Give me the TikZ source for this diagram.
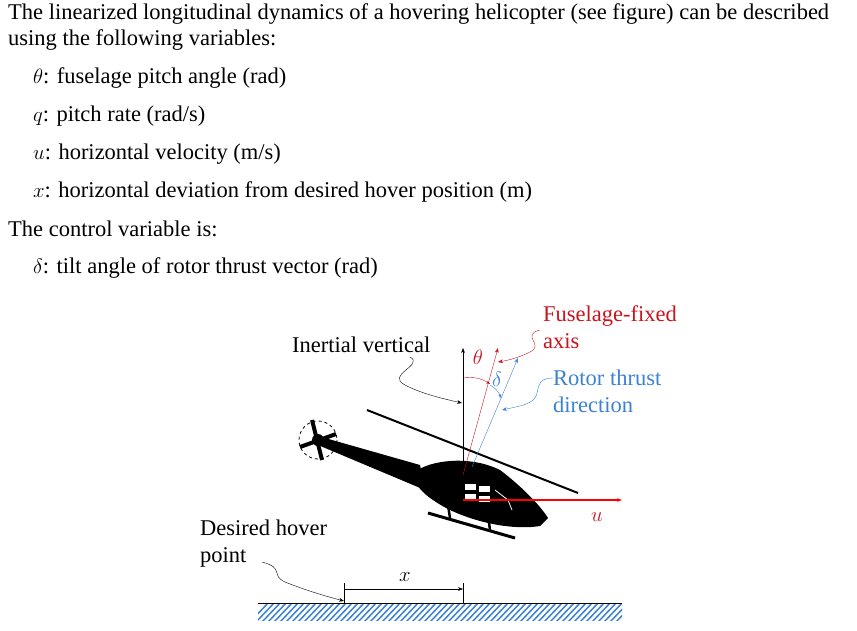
\documentclass[tikz,border=0pt]{standalone}
\usepackage{fontspec}
\setmainfont{Liberation Serif}
\usetikzlibrary{arrows.meta}
\begin{document}
\begin{tikzpicture}[x=1pt,y=-1pt,
  txt/.style={anchor=west,inner sep=0,font=\fontsize{22.5}{27}\selectfont},
  lbl/.style={inner sep=0,anchor=west,align=left,font=\fontsize{22.5}{27}\selectfont},
  ptr/.style={-{Stealth[length=5pt]},thin}]
\definecolor{rd}{RGB}{200,20,30}\definecolor{bl}{RGB}{60,130,210}
\useasboundingbox (0,0) rectangle (857,630);
\node[txt] (t1) at (8,14) {The linearized longitudinal dynamics of a hovering helicopter (see figure) can be described};
\node[txt] (t2) at (8,40) {using the following variables:};
\node[txt] (t3) at (33,78) {$\theta$: fuselage pitch angle (rad)};
\node[txt] (t4) at (33,116) {$q$: pitch rate (rad/s)};
\node[txt] (t5) at (33,154) {$u$: horizontal velocity (m/s)};
\node[txt] (t6) at (33,192) {$x$: horizontal deviation from desired hover position (m)};
\node[txt] (t7) at (8,229) {The control variable is:};
\node[txt] (t8) at (33,268) {$\delta$: tilt angle of rotor thrust vector (rad)};
% helicopter
\fill[black] (318,436) -- (420,465) -- (425,490) -- (318,445) -- cycle;
\fill[black] (415,472) .. controls (430,460) and (470,455) .. (500,470) .. controls (520,485) and (540,505) .. (548,518) -- (540,526) .. controls (515,530) and (480,524) .. (450,510) .. controls (430,500) and (410,485) .. cycle;
\fill[black] (318,440) circle (6);
\draw[line width=4pt] (312,420) -- (322,460);
\draw[line width=4pt] (300,447) -- (336,434);
\draw[dashed,thick] (318,440) circle (19);
\fill[white] (465,484) rectangle (476,490);\fill[white] (479,486) rectangle (490,492);
\fill[white] (465,494) rectangle (476,500);\fill[white] (479,496) rectangle (490,502);
\draw[white,thick] (495,490) -- (508,500) -- (512,510);
\draw[line width=3pt] (428,513) -- (515,538);
\draw[line width=2.5pt] (448,505) -- (450,518);\draw[line width=2.5pt] (488,515) -- (490,530);
\draw[line width=2pt] (367,410) -- (578,493);
% axes
\coordinate (O) at (463,475);
\coordinate (V) at (463,348);
\draw[ptr] (463,505) -- (V);
\draw[ptr,draw=rd] (O) -- (498,348);
\draw[ptr,draw=bl] (472,467) -- (518,358);
\draw[->,>={Stealth[length=4pt]},draw=rd] (463,378) to[bend left=20] (490,384);
\draw[->,>={Stealth[length=4pt]},draw=bl] (490,385) to[bend left=20] (501,398);
\node[inner sep=0,text=rd,font=\fontsize{20}{24}\selectfont] (th) at (478,357) {$\theta$};
\node[inner sep=0,text=bl,font=\fontsize{20}{24}\selectfont] (de) at (497,379) {$\delta$};
\draw[ptr,draw=red,line width=1.2pt] (463,500) -- (622,500);
\node[inner sep=0,text=rd,font=\fontsize{20}{24}\selectfont] (u) at (597,517) {$u$};
% labels
\node[lbl] (iv) at (292,345) {Inertial vertical};
\draw[ptr] (410,357) .. controls (425,365) and (385,375) .. (405,385) .. controls (420,393) and (440,398) .. (462,403);
\node[lbl,text=rd] (ff) at (543,327) {Fuselage-fixed\\axis};
\draw[ptr,draw=rd] (540,330) .. controls (520,335) and (545,345) .. (530,352) .. controls (520,357) and (510,360) .. (498,362);
\node[lbl,text=bl] (rt) at (553,391) {Rotor thrust\\direction};
\draw[ptr,draw=bl] (553,378) .. controls (535,378) and (540,390) .. (535,398) .. controls (530,405) and (515,407) .. (502,410);
\node[lbl] (dh) at (200,544) {Desired hover\\point};
\draw[ptr] (262,562) .. controls (285,568) and (270,575) .. (285,582) .. controls (305,590) and (325,596) .. (344,601);
% x dimension and ground
\draw (344,583) -- (344,603);
\draw (463,583) -- (463,603);
\draw[ptr] (344,589) -- (463,589);
\node[inner sep=0,font=\fontsize{20}{24}\selectfont] (x) at (405,577) {$x$};
\begin{scope}
\clip (258,603) rectangle (622,620);
\foreach \i in {250,256,...,630} \draw[bl,line width=1.5pt] (\i,622) -- (\i+20,601);
\end{scope}
\draw (258,603) -- (622,603);
\end{tikzpicture}
\end{document}
